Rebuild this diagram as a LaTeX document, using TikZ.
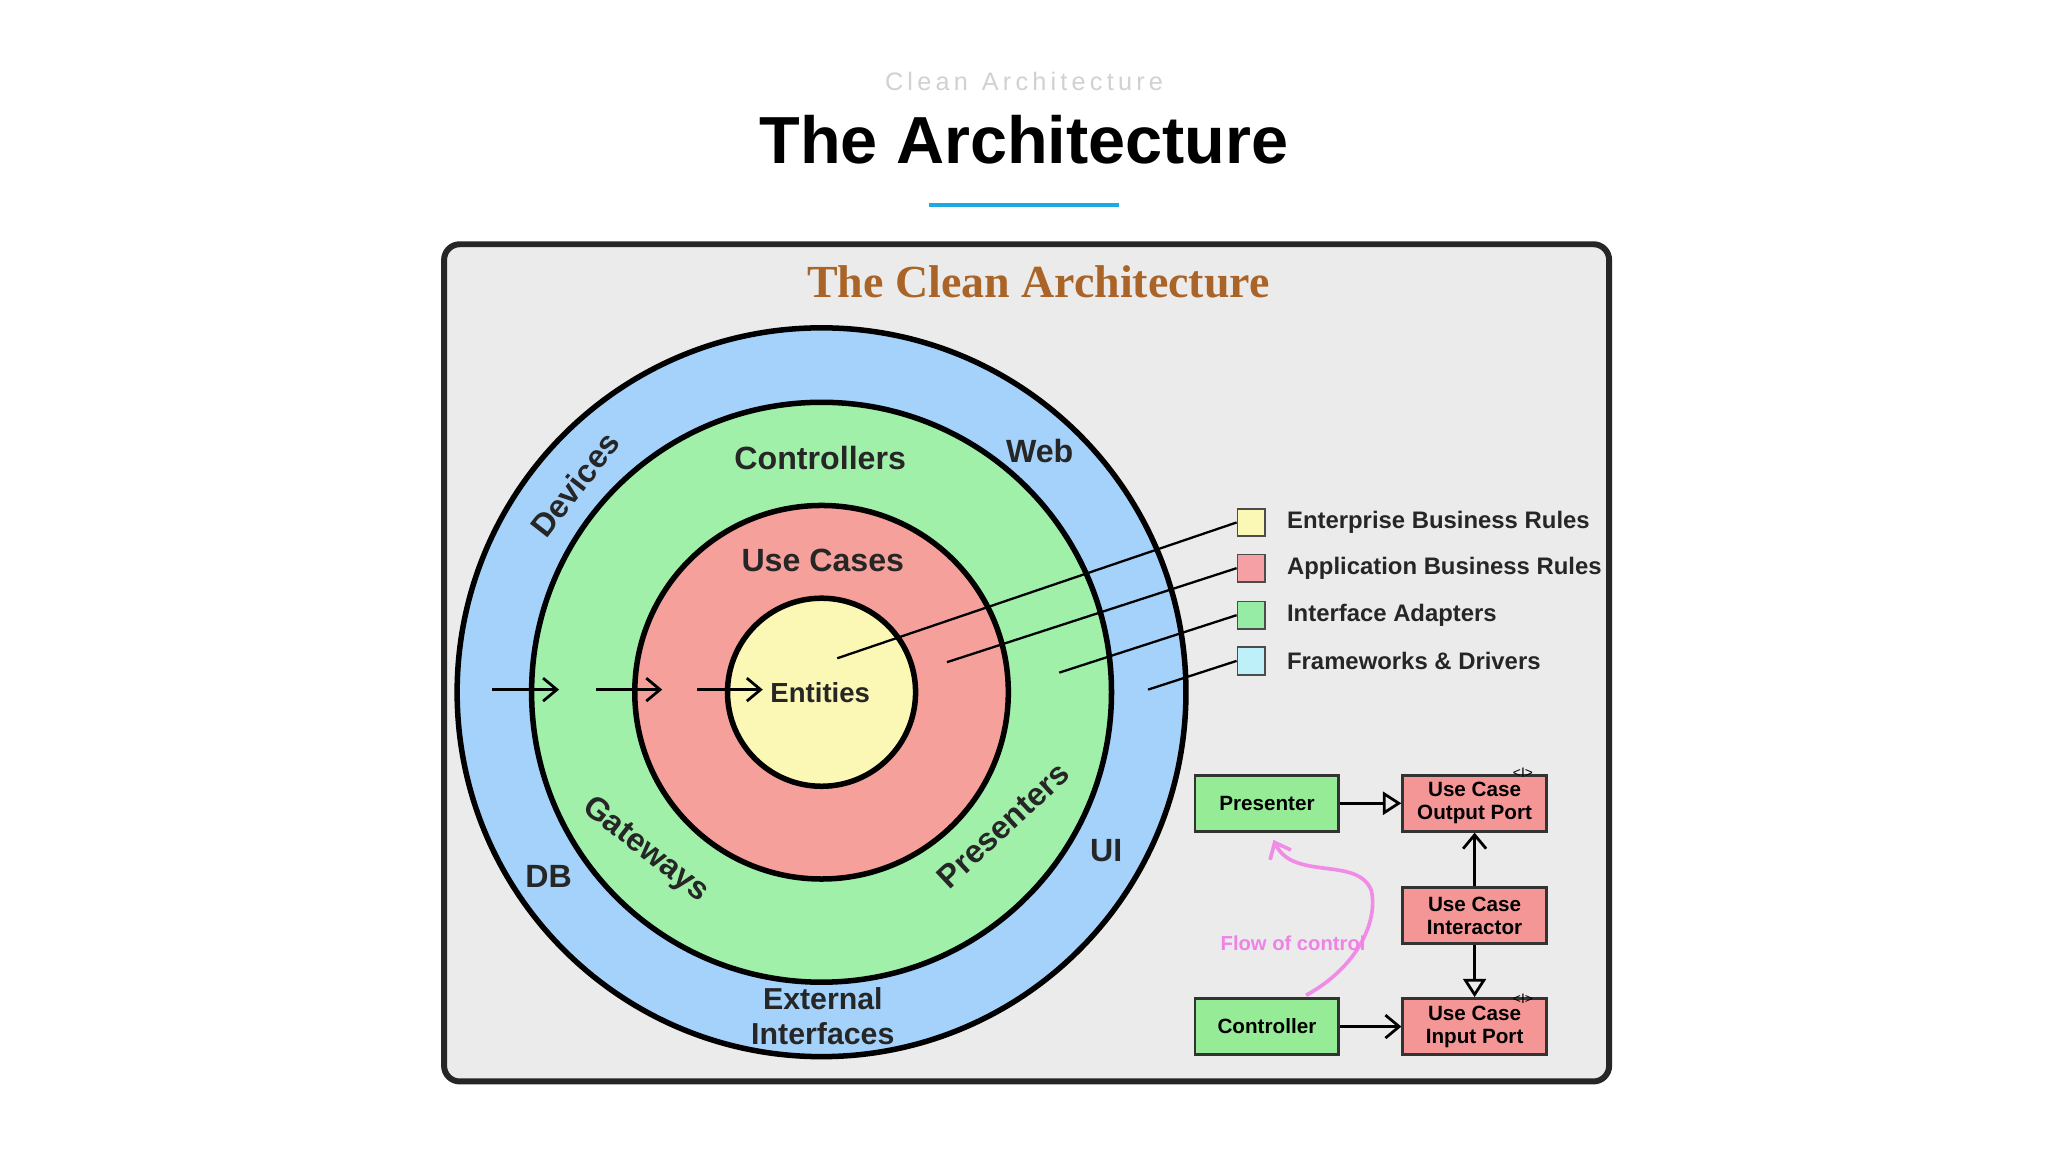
\documentclass[tikz,border=0pt]{standalone}
\usepackage{fontspec}
\setmainfont{Liberation Sans}
\newfontfamily\seriff{Liberation Serif}
\usetikzlibrary{arrows.meta}
\begin{document}
\begin{tikzpicture}[x=0.01cm,y=-0.01cm,
 lbl/.style={font=\fontsize{7}{8}\selectfont\bfseries,text=black!85},
 leg/.style={font=\fontsize{5.2}{6}\selectfont\bfseries,text=black!85,anchor=west},
 sq/.style={draw=black!70,line width=0.4pt,minimum size=0.21cm,inner sep=0},
 box/.style={draw=black!80,line width=0.6pt,minimum width=1.1cm,minimum height=0.43cm,align=center,font=\fontsize{4.5}{5}\selectfont\bfseries,inner sep=0},
 arr/.style={-{Straight Barb[length=3pt,width=5pt]},line width=0.6pt},
 tri/.style={-{Triangle[open,length=4pt,width=5pt]},line width=0.6pt}]
\useasboundingbox (0,0) rectangle (1568,882);
\fill[white] (0,0) rectangle (1568,882);
\node[font=\fontsize{5.5}{6}\selectfont,text=black!18] (sub) at (784,62) {C\,l\,e\,a\,n\ \ A\,r\,c\,h\,i\,t\,e\,c\,t\,u\,r\,e};
\node[font=\fontsize{14.5}{16}\selectfont\bfseries] (ttl) at (784,107) {The Architecture};
\draw[line width=0.7pt,draw={rgb,255:red,30;green,170;blue,225}] (711,157) -- (857,157);
\draw[line width=1.3pt,rounded corners=0.12cm,fill=black!8,draw=black!85] (340,187) rectangle (1232,828);
\node[font=\seriff\fontsize{10}{11}\selectfont\bfseries,text={rgb,255:red,170;green,100;blue,40}] (ct) at (795,216) {The Clean Architecture};
\draw[line width=1.2pt,fill={rgb,255:red,165;green,210;blue,250}] (629,530) circle (279);
\draw[line width=1.2pt,fill={rgb,255:red,160;green,240;blue,170}] (629,530) circle (222);
\draw[line width=1.2pt,fill={rgb,255:red,245;green,160;blue,155}] (629,530) circle (143);
\draw[line width=1.2pt,fill={rgb,255:red,250;green,248;blue,180}] (629,530) circle (72);
\node[lbl] (c1) at (628,351) {Controllers};
\node[lbl] (c2) at (630,429) {Use Cases};
\node[lbl,font=\fontsize{6}{7}\selectfont\bfseries] (en) at (628,530) {Entities};
\node[lbl] (web) at (796,345) {Web};
\node[lbl,rotate=52] (dev) at (440,371) {Devices};
\node[lbl] (db) at (420,671) {DB};
\node[lbl] (ui) at (847,651) {UI};
\node[lbl,align=center,font=\fontsize{6.6}{7.6}\selectfont\bfseries] (ext) at (630,778) {External\\Interfaces};
\node[lbl,rotate=-38,inner sep=0] (gw) at (494,651) {Gateways};
\node[lbl,rotate=43,inner sep=0] (pr) at (768,632) {Presenters};
\coordinate (a1) at (377,528); \coordinate (a2) at (428,528);
\coordinate (b1) at (456,528); \coordinate (b2) at (507,528);
\coordinate (d1) at (534,528); \coordinate (d2) at (584,528);
\draw[arr] (a1) -- (a2); \draw[arr] (b1) -- (b2); \draw[arr] (d1) -- (d2);
\node[sq,fill={rgb,255:red,250;green,248;blue,180}] (s1) at (958,400) {};
\node[sq,fill={rgb,255:red,245;green,160;blue,165}] (s2) at (958,435) {};
\node[sq,fill={rgb,255:red,150;green,235;blue,165}] (s3) at (958,471) {};
\node[sq,fill={rgb,255:red,190;green,240;blue,250}] (s4) at (958,506) {};
\node[leg] (l1) at (973,400) {Enterprise Business Rules};
\node[leg] (l2) at (973,435) {Application Business Rules};
\node[leg] (l3) at (973,471) {Interface Adapters};
\node[leg] (l4) at (973,506) {Frameworks \& Drivers};
\coordinate (p1) at (641,504); \coordinate (p2) at (725,507);
\coordinate (p3) at (811,515); \coordinate (p4) at (879,528);
\draw[line width=0.5pt] (s1.west) -- (p1);
\draw[line width=0.5pt] (s2.west) -- (p2);
\draw[line width=0.5pt] (s3.west) -- (p3);
\draw[line width=0.5pt] (s4.west) -- (p4);
\node[box,fill={rgb,255:red,150;green,235;blue,150}] (pres) at (970,615) {Presenter};
\node[box,fill={rgb,255:red,245;green,150;blue,150}] (out) at (1129,615) {Use Case\\Output Port};
\node[box,fill={rgb,255:red,245;green,150;blue,150}] (int) at (1129,701) {Use Case\\Interactor};
\node[box,fill={rgb,255:red,150;green,235;blue,150}] (ctrl) at (970,786) {Controller};
\node[box,fill={rgb,255:red,245;green,150;blue,150}] (inp) at (1129,786) {Use Case\\Input Port};
\node[font=\fontsize{3}{3}\selectfont] (i1) at (1166,592) {<I>};
\node[font=\fontsize{3}{3}\selectfont] (i2) at (1166,765) {<I>};
\draw[tri] (pres) -- (out);
\draw[arr] (int) -- (out);
\draw[tri] (int) -- (inp);
\draw[arr] (ctrl) -- (inp);
\coordinate (f1) at (1000,762); \coordinate (f2) at (975,643);
\draw[line width=0.8pt,draw={rgb,255:red,240;green,140;blue,230},-{Straight Barb[length=3pt,width=5pt]}] (f1) .. controls (1040,740) and (1055,705) .. (1050,682) .. controls (1040,655) and (990,675) .. (f2);
\node[font=\fontsize{4.4}{5}\selectfont\bfseries,text={rgb,255:red,240;green,130;blue,230}] (fc) at (990,722) {Flow of control};
\end{tikzpicture}
\end{document}
